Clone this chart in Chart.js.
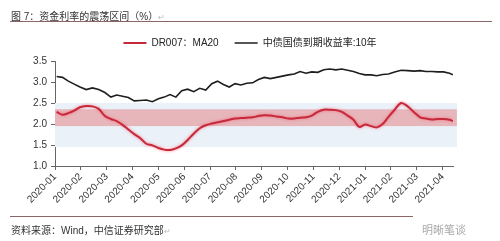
<!DOCTYPE html>
<html><head><meta charset="utf-8">
<script src="https://cdn.jsdelivr.net/npm/chart.js@4"></script>
<style>
html,body{margin:0;padding:0;background:#fff;}
#wrap{position:relative;width:500px;height:241px;overflow:hidden;font-family:'Liberation Sans','Noto Sans CJK SC',sans-serif;}
#c{position:absolute;left:0;top:0;}
.t{position:absolute;font-size:10px;color:#333;white-space:nowrap;}
.rule{position:absolute;height:1px;background:#8a6666;}
.mk{color:#bbb;font-size:8px;}
</style></head>
<body><div id="wrap">
<canvas id="c" width="500" height="241"></canvas>
<div class="t" style="left:11px;top:8px;">图 7：资金利率的震荡区间（%）<span class="mk">↵</span></div>
<div class="rule" style="left:10px;top:21px;width:482px;"></div>
<div class="rule" style="left:10px;top:216px;width:403px;"></div>
<div class="t" style="left:11px;top:222px;">资料来源：Wind，中信证券研究部<span class="mk">↵</span></div>
<div class="t" style="left:422px;top:221px;color:#aaa;font-size:11px;">明晰笔谈</div>
</div>
<script>
const dates = ["2020-01-03","2020-01-10","2020-01-17","2020-01-24","2020-01-31","2020-02-07","2020-02-14","2020-02-21","2020-02-28","2020-03-06","2020-03-13","2020-03-20","2020-03-27","2020-04-03","2020-04-10","2020-04-17","2020-04-24","2020-05-01","2020-05-08","2020-05-15","2020-05-22","2020-05-29","2020-06-05","2020-06-12","2020-06-19","2020-06-26","2020-07-03","2020-07-10","2020-07-17","2020-07-24","2020-07-31","2020-08-07","2020-08-14","2020-08-21","2020-08-28","2020-09-04","2020-09-11","2020-09-18","2020-09-25","2020-10-02","2020-10-09","2020-10-16","2020-10-23","2020-10-30","2020-11-06","2020-11-13","2020-11-20","2020-11-27","2020-12-04","2020-12-11","2020-12-18","2020-12-25","2021-01-01","2021-01-08","2021-01-15","2021-01-22","2021-01-29","2021-02-05","2021-02-12","2021-02-19","2021-02-26","2021-03-05","2021-03-12","2021-03-19","2021-03-26","2021-04-02","2021-04-09","2021-04-13"];
const dr007 = [2.29,2.22,2.26,2.32,2.40,2.43,2.42,2.36,2.19,2.12,2.07,1.98,1.87,1.76,1.66,1.53,1.49,1.43,1.39,1.38,1.42,1.49,1.62,1.77,1.90,1.97,2.01,2.04,2.07,2.10,2.13,2.14,2.15,2.16,2.19,2.21,2.20,2.18,2.16,2.13,2.13,2.15,2.16,2.20,2.29,2.34,2.34,2.33,2.29,2.20,2.10,1.93,1.99,1.95,1.92,2.00,2.17,2.34,2.50,2.42,2.28,2.16,2.13,2.11,2.12,2.12,2.10,2.07];
const cgb10y = [3.13,3.11,3.02,2.95,2.88,2.82,2.86,2.82,2.75,2.64,2.69,2.66,2.63,2.55,2.56,2.57,2.53,2.60,2.64,2.70,2.64,2.79,2.83,2.77,2.85,2.81,2.96,3.02,2.94,2.88,2.96,2.93,2.97,2.98,3.06,3.11,3.08,3.11,3.14,3.17,3.19,3.25,3.21,3.24,3.23,3.29,3.31,3.29,3.31,3.28,3.25,3.20,3.17,3.17,3.15,3.18,3.19,3.24,3.28,3.27,3.26,3.27,3.25,3.25,3.24,3.24,3.21,3.17];
const monthLabels = ["2020-01","2020-02","2020-03","2020-04","2020-05","2020-06","2020-07","2020-08","2020-09","2020-10","2020-11","2020-12","2021-01","2021-02","2021-03","2021-04"];
const seriesNames = ["DR007：MA20","中债国债到期收益率:10年"];
const yTicks = [1.0,1.5,2.0,2.5,3.0,3.5];
const bandLow = [1.45, 1.95];
const bandHigh = [2.5, 2.35];
const bandColors = ["#eaf1f8", "#e6b6bb"];
const bandEndMonth = 15.55;

function toMonth(s){
  const [y,m,d] = s.split("-").map(Number);
  const idx = (y-2020)*12 + (m-1);
  const dim = new Date(y, m, 0).getDate();
  return idx + (d-1)/dim;
}
const xs = dates.map(toMonth);
const pts = arr => arr.map((v,i)=>({x:xs[i], y:v}));

const bandPlugin = {
  id:'bands',
  beforeDatasetsDraw(chart){
    const {ctx, scales:{x,y}} = chart;
    ctx.save();
    bandLow.forEach((lo,i)=>{
      const x0 = x.getPixelForValue(0), x1 = x.getPixelForValue(bandEndMonth);
      const y0 = y.getPixelForValue(bandHigh[i]), y1 = y.getPixelForValue(lo);
      ctx.fillStyle = bandColors[i];
      ctx.fillRect(x0, y0, x1-x0, y1-y0);
    });
    ctx.restore();
  }
};
const glowPlugin = {
  id:'glow',
  beforeDatasetDraw(chart, args){
    chart.ctx.save();
    if(args.index===0){ chart.ctx.shadowColor='rgba(255,80,100,0.75)'; chart.ctx.shadowBlur=3; }
  },
  afterDatasetDraw(chart){ chart.ctx.restore(); }
};
const centerLegend = {
  id:'centerLegend',
  afterLayout(chart){
    const lg = chart.legend;
    if(!lg) return;
    const shift = chart.width/2 - (lg.left + lg.right)/2;
    lg.left += shift; lg.right += shift;
    lg.top -= 3; lg.bottom -= 3;
  }
};

const FONT = "'Liberation Sans','Noto Sans CJK SC',sans-serif";
new Chart(document.getElementById('c'), {
  type:'line',
  data:{datasets:[
    {label:seriesNames[0], data:pts(dr007), borderColor:'#c42a3c', backgroundColor:'#c42a3c', borderWidth:2, pointRadius:0, tension:0.35, fill:false},
    {label:seriesNames[1], data:pts(cgb10y), borderColor:'#1e1e1e', backgroundColor:'#1e1e1e', borderWidth:1.6, pointRadius:0, tension:0, fill:false}
  ]},
  options:{
    responsive:false, animation:false, events:[],
    layout:{padding:{left:0,right:47,top:25,bottom:0}},
    plugins:{
      legend:{position:'top', align:'center',
        labels:{usePointStyle:true, pointStyle:'line', pointStyleWidth:23, boxHeight:10, padding:16, color:'#222', font:{family:FONT,size:10}}},
      tooltip:{enabled:false}
    },
    scales:{
      x:{type:'linear', min:0, max:toMonth(dates[dates.length-1]),
        afterBuildTicks(s){ s.ticks = monthLabels.map((l,i)=>({value:i})); },
        afterFit(s){ s.height = 75; },
        ticks:{callback:(v)=>monthLabels[v], maxRotation:45, minRotation:45, autoSkip:false, color:'#333', font:{family:FONT,size:10}, padding:1},
        grid:{display:true, drawOnChartArea:false, drawTicks:true, tickLength:4, color:'#666'},
        border:{display:true, color:'#666', width:1}
      },
      y:{min:1, max:3.5,
        afterBuildTicks(s){ s.ticks = yTicks.map(v=>({value:v})); },
        afterFit(s){ s.width = 55; },
        ticks:{callback:(v)=>v.toFixed(1), color:'#333', font:{family:FONT,size:10}, padding:4},
        grid:{display:true, drawOnChartArea:false, drawTicks:true, tickLength:4, color:'#666'},
        border:{display:true, color:'#666', width:1}
      }
    }
  },
  plugins:[bandPlugin, glowPlugin, centerLegend]
});
</script>
</body></html>
